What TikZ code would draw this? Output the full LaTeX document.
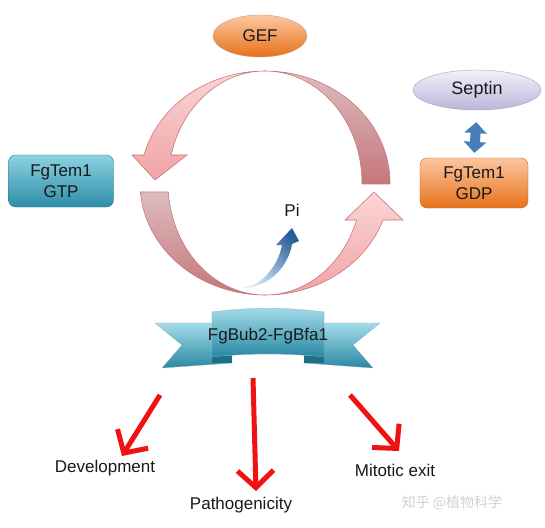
\documentclass[tikz,border=0pt]{standalone}
\usepackage{fontspec}
\setmainfont{Liberation Sans}
\newfontfamily\cjkfont{Noto Sans CJK SC}
\usetikzlibrary{shapes.geometric,arrows.meta}
\definecolor{arcline}{HTML}{C9777B}
\definecolor{backtop}{HTML}{DDBDBF}
\definecolor{backbot}{HTML}{C5767B}
\definecolor{fronttop}{HTML}{FBD5D5}
\definecolor{frontbot}{HTML}{F0A3A6}
\definecolor{tealtop}{HTML}{8CD2E2}
\definecolor{tealbot}{HTML}{2E8DA8}
\definecolor{orangetop}{HTML}{FCC7A0}
\definecolor{orangebot}{HTML}{E6721A}
\definecolor{lavtop}{HTML}{F3F0F8}
\definecolor{lavbot}{HTML}{BDB4DA}
\definecolor{dblblue}{HTML}{4A7EBB}
\definecolor{pidark}{HTML}{2A5C98}
\definecolor{pilight}{HTML}{D3E6F6}
\definecolor{redarrow}{HTML}{F01212}
\definecolor{bannertop}{HTML}{A4DCE9}
\definecolor{bannerbot}{HTML}{2A88A4}
\definecolor{bannerfold}{HTML}{1F6F88}
\definecolor{wmgray}{HTML}{D2D2D2}
\begin{document}
\begin{tikzpicture}[x=1pt,y=-1pt,
  every node/.style={font=\fontsize{17}{21}\selectfont, text=black!90},
  backarc/.style={draw=arcline, line width=0.6pt, top color=backtop, bottom color=backbot},
  frontarc/.style={draw=arcline, line width=0.6pt, top color=fronttop, bottom color=frontbot},
  gefnode/.style={ellipse, minimum width=94pt, minimum height=42pt, inner sep=0pt,
     draw=orangebot!70!black!60, line width=0.3pt, top color=orangetop, bottom color=orangebot},
  sepnode/.style={ellipse, minimum width=128pt, minimum height=40pt, inner sep=0pt,
     draw=lavbot!80!black, line width=0.3pt, top color=lavtop, bottom color=lavbot,
     font=\fontsize{18}{21}\selectfont},
  gtpbox/.style={rectangle, rounded corners=7pt, minimum width=105pt, minimum height=52pt,
     align=center, inner sep=0pt, draw=tealbot!80!black, line width=0.3pt,
     top color=tealtop, bottom color=tealbot},
  gdpbox/.style={rectangle, rounded corners=7pt, minimum width=108pt, minimum height=50pt,
     align=center, inner sep=0pt, draw=orangebot!80!black, line width=0.3pt,
     top color=orangetop, bottom color=orangebot},
  redarr/.style={draw=redarrow, line width=5pt, -{Straight Barb[length=17pt,width=36pt]}},
  dblarr/.style={draw=dblblue, line width=10pt, {Triangle[length=11pt,width=22pt]}-{Triangle[length=11pt,width=22pt]}},
  labeltext/.style={inner sep=1pt}
]
\useasboundingbox[fill=white] (0,0) rectangle (545,527);

% ---- cycle arrows: back halves ----
\path[backarc] plot[domain=90:-0.5,samples=50] ({265+125*cos(\x)},{183-112*sin(\x)})
   -- plot[domain=-0.5:90,samples=50] ({265+97*cos(\x)},{183-112*sin(\x)}) -- cycle;
\path[backarc] plot[domain=184.6:270,samples=50] ({265+125*cos(\x)},{183-112*sin(\x)})
   -- plot[domain=270:184.6,samples=50] ({265+97*cos(\x)},{183-112*sin(\x)}) -- cycle;
% ---- front halves with heads ----
\path[frontarc] plot[domain=90:165.5,samples=50] ({265+125*cos(\x)},{183-112*sin(\x)})
   -- (132,155) -- (155,180) -- (187,155)
   -- plot[domain=165.5:90,samples=50] ({265+97*cos(\x)},{183-112*sin(\x)}) -- cycle;
\path[frontarc] plot[domain=270:340.7,samples=50] ({265+125*cos(\x)},{183-112*sin(\x)})
   -- (403,220) -- (374,192) -- (345,220)
   -- plot[domain=340.7:270,samples=50] ({265+97*cos(\x)},{183-112*sin(\x)}) -- cycle;

% ---- Pi arrow ----
\path[top color=pidark, bottom color=pilight, shading angle=-45]
  (244,288) .. controls (263,284) and (278,266) .. (282,245)
  -- (276,245) -- (292,228) -- (299,241) -- (292,244)
  .. controls (288,268) and (268,287) .. (244,288) -- cycle;
\node[labeltext] (pi) at (292,210) {Pi};

% ---- nodes ----
\node[gefnode] (gef) at (260,36) {GEF};
\node[sepnode] (septin) at (477,90) {Septin};
\node[gtpbox] (gtp) at (61,181) {FgTem1\\GTP};
\node[gdpbox] (gdp) at (474,183) {FgTem1\\GDP};
\draw[dblarr, shorten <=12pt, shorten >=5pt] (septin.south) -- (gdp.north);

% ---- banner ----
\path[top color=bannertop, bottom color=bannerbot, draw=bannerbot!70!black!50, line width=0.3pt]
  (155,323) -- (232,323) -- (232,363) -- (162,368) -- (182,345) -- cycle;
\path[top color=bannertop, bottom color=bannerbot, draw=bannerbot!70!black!50, line width=0.3pt]
  (380,323) -- (304,323) -- (304,363) -- (373,368) -- (353,345) -- cycle;
\fill[bannerfold] (212,356) -- (232,356) -- (232,363) -- (212,363) -- cycle;
\fill[bannerfold] (324,356) -- (304,356) -- (304,363) -- (324,363) -- cycle;
\path[top color=bannertop, bottom color=bannerbot, draw=bannerbot!70!black!50, line width=0.3pt]
  (212,312) .. controls (250,307) and (286,307) .. (324,312)
  -- (324,357) .. controls (286,353) and (250,353) .. (212,357) -- cycle;
\node[labeltext] (banner) at (268,336) {FgBub2-FgBfa1};

% ---- outcomes ----
\node[labeltext] (dev) at (105,468) {Development};
\node[labeltext] (path) at (241,505) {Pathogenicity};
\node[labeltext] (mit) at (395,470) {Mitotic exit};
\coordinate (devstart) at (160,395);
\coordinate (devend) at (122,456);
\coordinate (pathstart) at (253,378);
\coordinate (pathend) at (256,491);
\coordinate (mitstart) at (350,395);
\coordinate (mitend) at (399,451);
\draw[redarr] (devstart) -- (devend);
\draw[redarr] (pathstart) -- (pathend);
\draw[redarr] (mitstart) -- (mitend);

% ---- watermark ----
\node[font=\cjkfont\fontsize{14}{16}\selectfont, text=wmgray] (wm) at (452,503) {知乎 @植物科学};
\end{tikzpicture}
\end{document}
